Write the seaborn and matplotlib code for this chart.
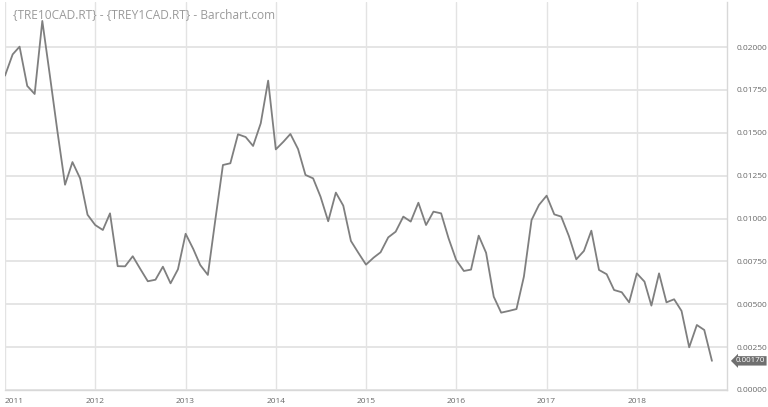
import matplotlib
matplotlib.use("Agg")
import matplotlib.pyplot as plt
import matplotlib.dates as mdates
import matplotlib.ticker as mticker
import numpy as np
import pandas as pd
import seaborn as sns

# ---- data (monthly spread, Jan 2011 .. Nov 2018) ----
start_month = "2011-01-01"
spread = [
    0.01833, 0.01957, 0.02002, 0.01773, 0.01726, 0.02152, 0.0184, 0.0151,
    0.01197, 0.01329, 0.01234, 0.01022,
    0.00962, 0.00933, 0.01030, 0.00722, 0.00721, 0.00780, 0.00707, 0.00634,
    0.00643, 0.00719, 0.00622, 0.00704,
    0.00911, 0.00822, 0.00729, 0.00671, 0.00990, 0.01312, 0.01322, 0.01491,
    0.01475, 0.01423, 0.01555, 0.01804,
    0.01403, 0.01448, 0.01493, 0.01405, 0.01254, 0.01234, 0.01127, 0.00984,
    0.01151, 0.01075, 0.00869, 0.00800,
    0.00731, 0.00772, 0.00803, 0.00890, 0.00923, 0.01011, 0.00982, 0.01092,
    0.00962, 0.01040, 0.01030, 0.00885,
    0.00758, 0.00694, 0.00702, 0.00900, 0.00800, 0.00544, 0.00451, 0.00461,
    0.00472, 0.00661, 0.00991, 0.01079,
    0.01133, 0.01024, 0.01011, 0.00898, 0.00762, 0.00811, 0.00929, 0.00700,
    0.00675, 0.00583, 0.00570, 0.00511,
    0.00680, 0.00632, 0.00492, 0.00680, 0.00511, 0.00529, 0.00461, 0.00249,
    0.00379, 0.00350, 0.00170,
]
year_ticks = ["2011", "2012", "2013", "2014", "2015", "2016", "2017", "2018"]
y_ticks = [0.0, 0.0025, 0.005, 0.0075, 0.01, 0.0125, 0.015, 0.0175, 0.02]
title_text = "{TRE10CAD.RT} - {TREY1CAD.RT} - Barchart.com"
last_label = "0.00170"

dates = pd.date_range(start_month, periods=len(spread), freq="MS")
df = pd.DataFrame({"date": dates, "spread": spread})

sns.set_style("white")
plt.rcParams["font.family"] = ["Open Sans", "DejaVu Sans"]

fig = plt.figure(figsize=(7.68, 4.07), dpi=100)
ax = fig.add_axes([5 / 768, 17 / 407, (727 - 5) / 768, (390 - 2) / 407])

sns.lineplot(data=df, x="date", y="spread", ax=ax, color="#7f7f7f", linewidth=1.3)

ax.set_xlim(pd.Timestamp("2011-01-01"), pd.Timestamp("2019-01-01"))
ax.set_ylim(0, 388 / 17150)

grid_c = "#e3e3e3"
ax.set_xticks([pd.Timestamp(y + "-01-01") for y in year_ticks])
ax.set_xticklabels(year_ticks)
ax.set_yticks(y_ticks)
ax.yaxis.set_major_formatter(mticker.FormatStrFormatter("%.5f"))
ax.yaxis.tick_right()
ax.grid(True, axis="x", color=grid_c, linewidth=1.0)
ax.grid(True, axis="y", color=grid_c, linewidth=1.3)
ax.set_axisbelow(True)
ax.tick_params(axis="both", length=0, labelsize=6, labelcolor="#6a6a6a")
ax.tick_params(axis="x", pad=6)
ax.tick_params(axis="y", pad=7)
for lbl in ax.get_xticklabels()[:1]:
    lbl.set_horizontalalignment("left")
ax.set_xlabel("")
ax.set_ylabel("")

for s in ["top", "left"]:
    ax.spines[s].set_visible(False)
for s in ["right", "bottom"]:
    ax.spines[s].set_color("#d8d8d8")
    ax.spines[s].set_linewidth(1.0)

ax.text(8 / 722, 0.985, title_text, transform=ax.transAxes, ha="left", va="top",
        fontsize=8.6, color="#9a9a9a")

ax.annotate(last_label, xy=(1.0, spread[-1]), xycoords=("axes fraction", "data"),
            xytext=(9, 0), textcoords="offset pixels", ha="left", va="center",
            fontsize=5.8, color="white",
            bbox=dict(boxstyle="larrow,pad=0.15", fc="#6f6f6f", ec="none"),
            annotation_clip=False)

fig.savefig("out.png", dpi=100)
